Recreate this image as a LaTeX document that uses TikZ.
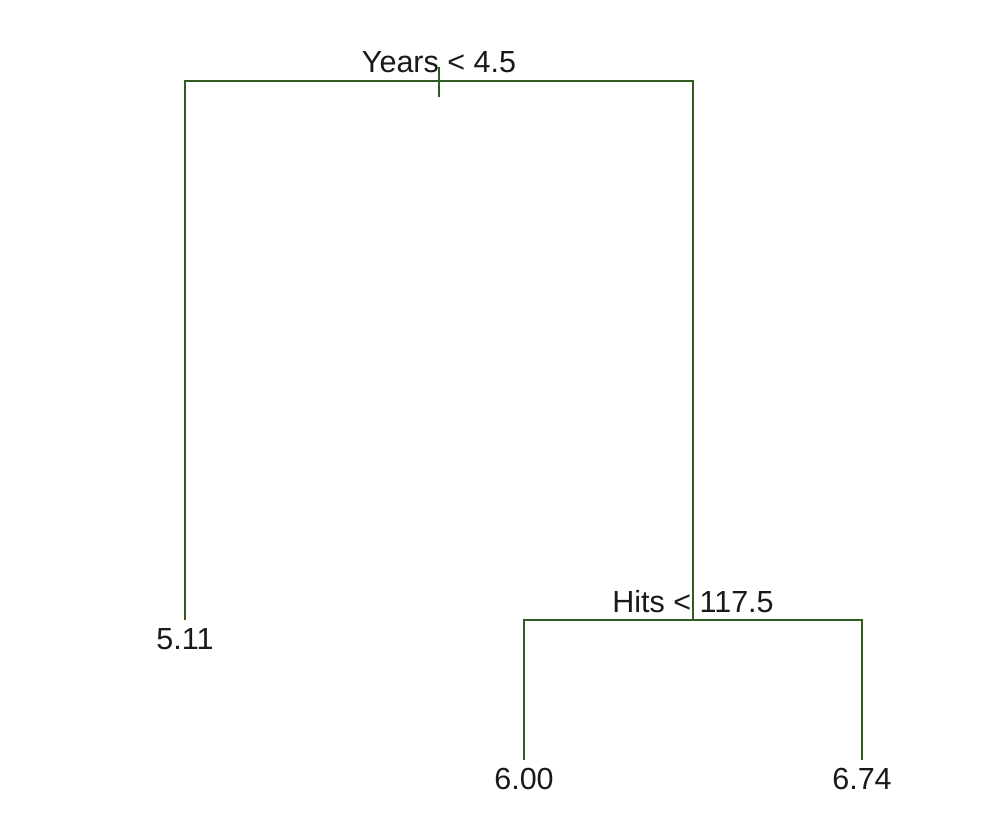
\documentclass[tikz,border=0pt]{standalone}
\usepackage{fontspec}
\setmainfont{Liberation Sans}
\usetikzlibrary{positioning}

\definecolor{treegreen}{RGB}{48,94,34}

\begin{document}
\begin{tikzpicture}[
    x=1pt, y=-1pt, % work in pixel units, y downwards
    edge/.style={draw=treegreen, line width=1.7pt},
    lbl/.style={font=\fontsize{30.5}{36}\selectfont, text=black!90, inner sep=0pt, anchor=base}
]
    \useasboundingbox (0,0) rectangle (1000,824);

    % Split points
    \coordinate (root)   at (439,81);
    \coordinate (rootL)  at (185,81);
    \coordinate (rootR)  at (693,81);
    \coordinate (tickT)  at (439,67);
    \coordinate (tickB)  at (439,97);
    \coordinate (hits)   at (693,620);
    \coordinate (hitsL)  at (524,620);
    \coordinate (hitsR)  at (862,620);

    % Leaf ends
    \coordinate (leafA) at (185,620);
    \coordinate (leafB) at (524,760);
    \coordinate (leafC) at (862,760);

    % Branches
    \draw[edge] (leafA) -- (rootL) -- (rootR) -- (hits);
    \draw[edge] (tickT) -- (tickB);
    \draw[edge] (leafB) -- (hitsL) -- (hitsR) -- (leafC);

    % Split labels
    \node[lbl] (yearsLbl) at (439,73) {Years < 4.5};
    \node[lbl] (hitsLbl)  at (693,612) {Hits < 117.5};

    % Leaf values
    \node[lbl] (valA) at (185,649) {5.11};
    \node[lbl] (valB) at (524,789) {6.00};
    \node[lbl] (valC) at (862,789) {6.74};

\end{tikzpicture}
\end{document}
